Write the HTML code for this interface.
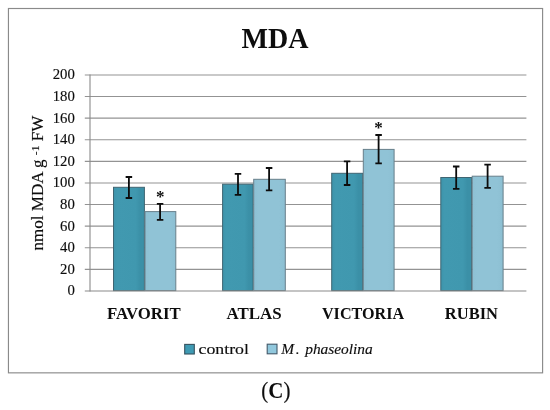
<!DOCTYPE html>
<html lang="en"><head><meta charset="utf-8"><title>MDA</title>
<style>
html,body{margin:0;padding:0;background:#fff;}
body{width:550px;height:410px;overflow:hidden;}
svg{display:block;}
text{font-family:"Liberation Serif","DejaVu Serif",serif;fill:#0d0d0d;stroke:#0d0d0d;stroke-width:0.14px;}
.b{font-weight:bold;stroke-width:0;}
.i{font-style:italic;}
</style></head><body>
<svg width="550" height="410" viewBox="0 0 550 410">
<defs>
<linearGradient id="gd" x1="0" y1="0" x2="1" y2="0"><stop offset="0" stop-color="#3e94ab"/><stop offset="0.12" stop-color="#4199b0"/><stop offset="0.72" stop-color="#4098af"/><stop offset="0.86" stop-color="#3b90a7"/><stop offset="1" stop-color="#3b90a7"/></linearGradient>
<linearGradient id="gl" x1="0" y1="0" x2="1" y2="0"><stop offset="0" stop-color="#8dc0d3"/><stop offset="0.15" stop-color="#90c3d6"/><stop offset="0.8" stop-color="#90c3d6"/><stop offset="1" stop-color="#8cbfd2"/></linearGradient>
</defs>
<rect x="0" y="0" width="550" height="410" fill="#fff"/>
<rect x="8.45" y="8.5" width="534.15" height="364.35" fill="#fff" stroke="#8a8a8a" stroke-width="1.15"/>

<g stroke="#939393" stroke-width="1.1" fill="none">
<line x1="84.8" y1="269.35" x2="526.4" y2="269.35"/>
<line x1="84.8" y1="247.75" x2="526.4" y2="247.75"/>
<line x1="84.8" y1="226.15" x2="526.4" y2="226.15"/>
<line x1="84.8" y1="204.55" x2="526.4" y2="204.55"/>
<line x1="84.8" y1="182.95" x2="526.4" y2="182.95"/>
<line x1="84.8" y1="161.35" x2="526.4" y2="161.35"/>
<line x1="84.8" y1="139.75" x2="526.4" y2="139.75"/>
<line x1="84.8" y1="118.15" x2="526.4" y2="118.15"/>
<line x1="84.8" y1="96.55" x2="526.4" y2="96.55"/>
<line x1="84.8" y1="74.95" x2="526.4" y2="74.95"/>
</g>
<rect x="113.50" y="187.30" width="30.90" height="103.30" fill="url(#gd)" stroke="#3f6572" stroke-width="1"/>
<rect x="145.00" y="211.60" width="30.80" height="79.00" fill="url(#gl)" stroke="#687f8a" stroke-width="1"/>
<rect x="222.60" y="184.20" width="30.50" height="106.40" fill="url(#gd)" stroke="#3f6572" stroke-width="1"/>
<rect x="253.70" y="179.30" width="31.60" height="111.30" fill="url(#gl)" stroke="#687f8a" stroke-width="1"/>
<rect x="331.70" y="173.30" width="31.00" height="117.30" fill="url(#gd)" stroke="#3f6572" stroke-width="1"/>
<rect x="363.30" y="149.40" width="30.80" height="141.20" fill="url(#gl)" stroke="#687f8a" stroke-width="1"/>
<rect x="440.80" y="177.50" width="30.80" height="113.10" fill="url(#gd)" stroke="#3f6572" stroke-width="1"/>
<rect x="472.20" y="176.20" width="30.90" height="114.40" fill="url(#gl)" stroke="#687f8a" stroke-width="1"/>
<g stroke="#8a8a8a" stroke-width="1.1" fill="none">
<line x1="84.8" y1="291.05" x2="526.4" y2="291.05"/>
<line x1="90.00" y1="74.40" x2="90.00" y2="291.50"/>
</g>
<g stroke="#0c0c0c" stroke-width="1.8" fill="none">
<path d="M125.65 177.0H132.15M125.65 198.0H132.15M128.9 177.0V198.0"/>
<path d="M156.85 203.9H163.35M156.85 219.8H163.35M160.1 203.9V219.8"/>
<path d="M234.75 173.8H241.25M234.75 194.8H241.25M238.0 173.8V194.8"/>
<path d="M265.85 168.0H272.35M265.85 190.3H272.35M269.1 168.0V190.3"/>
<path d="M343.85 161.4H350.35M343.85 185.0H350.35M347.1 161.4V185.0"/>
<path d="M375.35 135.0H381.85M375.35 163.4H381.85M378.6 135.0V163.4"/>
<path d="M452.95 166.5H459.45M452.95 188.8H459.45M456.2 166.5V188.8"/>
<path d="M484.35 164.7H490.85M484.35 187.9H490.85M487.6 164.7V187.9"/>
</g>
<text class="b" transform="translate(160.3,202.2) scale(1.0,1)" font-size="17" text-anchor="middle">*</text>
<text class="b" transform="translate(378.5,133.2) scale(1.0,1)" font-size="17" text-anchor="middle">*</text>
<text class="b" transform="translate(274.9,47.8) scale(0.985,1)" font-size="28.5" text-anchor="middle">MDA</text>
<text transform="translate(74.8,295.4) scale(1.07,1)" font-size="13.8" text-anchor="end">0</text>
<text transform="translate(74.8,273.8) scale(1.07,1)" font-size="13.8" text-anchor="end">20</text>
<text transform="translate(74.8,252.2) scale(1.07,1)" font-size="13.8" text-anchor="end">40</text>
<text transform="translate(74.8,230.6) scale(1.07,1)" font-size="13.8" text-anchor="end">60</text>
<text transform="translate(74.8,208.9) scale(1.07,1)" font-size="13.8" text-anchor="end">80</text>
<text transform="translate(74.8,187.4) scale(1.07,1)" font-size="13.8" text-anchor="end">100</text>
<text transform="translate(74.8,165.8) scale(1.07,1)" font-size="13.8" text-anchor="end">120</text>
<text transform="translate(74.8,144.2) scale(1.07,1)" font-size="13.8" text-anchor="end">140</text>
<text transform="translate(74.8,122.5) scale(1.07,1)" font-size="13.8" text-anchor="end">160</text>
<text transform="translate(74.8,100.9) scale(1.07,1)" font-size="13.8" text-anchor="end">180</text>
<text transform="translate(74.8,79.3) scale(1.07,1)" font-size="13.8" text-anchor="end">200</text>
<text transform="translate(43.0,250.5) rotate(-90) scale(1.067,1)" font-size="16" text-anchor="start">nmol MDA g <tspan font-size="11" dy="-4.3">-1</tspan><tspan dy="4.3"> FW</tspan></text>
<text class="b" transform="translate(143.8,319.4) scale(1.05,1)" font-size="16" text-anchor="middle">FAVORIT</text>
<text class="b" transform="translate(254.1,319.4) scale(1.06,1)" font-size="16" text-anchor="middle">ATLAS</text>
<text class="b" transform="translate(363.1,319.4) scale(1.01,1)" font-size="16" text-anchor="middle">VICTORIA</text>
<text class="b" transform="translate(471.4,319.4) scale(1.03,1)" font-size="16" text-anchor="middle">RUBIN</text>
<rect x="184.7" y="344.4" width="9.6" height="9.6" fill="#3f9ab3" stroke="#36525f" stroke-width="1.1"/>
<text transform="translate(198.5,353.6) scale(1.165,1)" font-size="15.3" text-anchor="start">control</text>
<rect x="267.2" y="344.2" width="9.8" height="9.6" fill="#91c8dd" stroke="#43596a" stroke-width="1.1"/>
<text class="i" transform="translate(281.3,353.8) scale(1.05,1)" font-size="14.67" text-anchor="start"><tspan letter-spacing="1.6">M.</tspan> phaseolina</text>
<text transform="translate(275.9,397.8) scale(1.0,1.12)" font-size="21" text-anchor="middle">(<tspan class="b">C</tspan>)</text>
</svg>
</body></html>
